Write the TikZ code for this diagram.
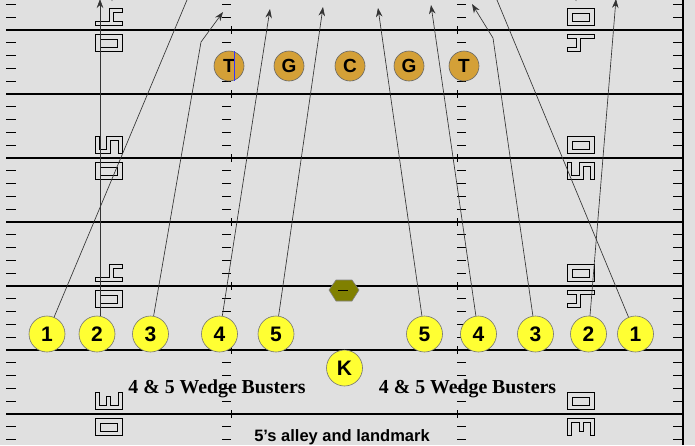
\documentclass[tikz,border=0pt]{standalone}
\usepackage{fontspec}
\setmainfont{Liberation Serif}
\setsansfont{Liberation Sans}
\usepackage{tikz}
\usetikzlibrary{positioning, arrows.meta}

\definecolor{fieldgray}{RGB}{224,224,224}
\definecolor{kickyellow}{RGB}{255,255,51}
\definecolor{recvgold}{RGB}{212,160,55}
\definecolor{ballolive}{RGB}{128,128,0}

\tikzset{
  yardline/.style={line width=1.2pt, black},
  hashtick/.style={line width=0.9pt, black},
  numline/.style={line width=0.8pt, black, x=1pt, y=1pt},
  kicker/.style={circle, draw=black!55, line width=0.6pt, fill=kickyellow,
    minimum size=36pt, inner sep=0pt, font=\sffamily\bfseries\fontsize{21}{21}\selectfont},
  receiver/.style={circle, draw=black!60, line width=0.6pt, fill=recvgold,
    minimum size=30pt, inner sep=0pt, font=\sffamily\bfseries\fontsize{19}{19}\selectfont},
  lane/.style={line width=0.65pt, draw=black!80, -{Stealth[length=9pt, width=6.5pt]}},
  % block digits, drawn upright, turned when placed
  dzero/.pic={\draw[numline] (-8.5,-13.5) rectangle (8.5,13.5) (-4,-8.5) rectangle (4,8.5);},
  dthree/.pic={\draw[numline] (-8.5,13.5) -- (8.5,13.5) -- (8.5,-13.5) -- (-8.5,-13.5) -- (-8.5,-9.5)
    -- (4.5,-9.5) -- (4.5,-2) -- (-4.5,-2) -- (-4.5,2) -- (4.5,2) -- (4.5,9.5) -- (-8.5,9.5) -- cycle;},
  dfour/.pic={\draw[numline] (-8.5,13.5) -- (-4.5,13.5) -- (-4.5,4.5) -- (4.5,4.5) -- (4.5,13.5)
    -- (8.5,13.5) -- (8.5,-13.5) -- (4.5,-13.5) -- (4.5,0.5) -- (-8.5,0.5) -- cycle;},
  dfive/.pic={\draw[numline] (-8.5,13.5) -- (8.5,13.5) -- (8.5,9.5) -- (-4.5,9.5) -- (-4.5,2) -- (8.5,2)
    -- (8.5,-13.5) -- (-8.5,-13.5) -- (-8.5,-9.5) -- (4.5,-9.5) -- (4.5,-2) -- (-8.5,-2) -- cycle;},
}

\begin{document}
\begin{tikzpicture}[x=1pt, y=-1pt]
  \useasboundingbox (0,0) rectangle (695,445);
  \fill[fieldgray] (0,0) rectangle (695,445);

  % yard lines and hash marks
  \foreach \y in {30,94,...,414}{
    \draw[yardline] (6,\y) -- (683,\y);
    \draw[hashtick] (231,\y-4) -- (231,\y+4) (457,\y-4) -- (457,\y+4);
  }
  \foreach \b in {-34,30,94,...,414}
    \foreach \j in {1,2,3,4}{
      \draw[hashtick] (6,\b+12.8*\j) -- (16,\b+12.8*\j) (222,\b+12.8*\j) -- (231,\b+12.8*\j)
        (457,\b+12.8*\j) -- (466,\b+12.8*\j) (673,\b+12.8*\j) -- (683,\b+12.8*\j);
    }
  \draw[yardline] (683,0) -- (683,445);

  % numbers, left side
  \pic[rotate=-90] at (108.5,17) {dfour};
  \pic[rotate=-90] at (108.5,43) {dzero};
  \pic[rotate=-90] at (108.5,145) {dfive};
  \pic[rotate=-90] at (108.5,171) {dzero};
  \pic[rotate=-90] at (108.5,273) {dfour};
  \pic[rotate=-90] at (108.5,299) {dzero};
  \pic[rotate=-90] at (108.5,401) {dthree};
  \pic[rotate=-90] at (108.5,427) {dzero};

  % numbers, right side
  \pic[rotate=90] at (581,17) {dzero};
  \pic[rotate=90] at (581,43) {dfour};
  \pic[rotate=90] at (581,145) {dzero};
  \pic[rotate=90] at (581,171) {dfive};
  \pic[rotate=90] at (581,273) {dzero};
  \pic[rotate=90] at (581,299) {dfour};
  \pic[rotate=90] at (581,401) {dzero};
  \pic[rotate=90] at (581,427) {dthree};

  % receiving front
  \node[receiver] (rT1) at (229,66) {T};
  \node[receiver] (rG1) at (289,66) {G};
  \node[receiver] (rC)  at (350,66) {C};
  \node[receiver] (rG2) at (409,66) {G};
  \node[receiver] (rT2) at (464,66) {T};
  \draw[blue!80, line width=0.6pt] (234,51) -- (234,81);

  % ball
  \draw[fill=ballolive, draw=black!50, line width=0.6pt]
     (329,290) -- (336,280) -- (352,280) -- (359,290) -- (352,301) -- (336,301) -- cycle;
  \draw[black, line width=0.8pt] (338,290) -- (348,290);

  % kickoff team
  \node[kicker] (kL1) at (47,334) {1};
  \node[kicker] (kL2) at (97,334) {2};
  \node[kicker] (kL3) at (150.5,334) {3};
  \node[kicker] (kL4) at (219.5,334) {4};
  \node[kicker] (kL5) at (276,334) {5};
  \node[kicker] (kR5) at (424.5,334) {5};
  \node[kicker] (kR4) at (478.5,334) {4};
  \node[kicker] (kR3) at (535.5,334) {3};
  \node[kicker] (kR2) at (588.5,334) {2};
  \node[kicker] (kR1) at (635.5,334) {1};
  \node[kicker] (kick) at (344.5,368) {K};

  % goal direction marks
  \draw[numline] (109,7) -- (112,0) -- (115,7) -- cycle;
  \draw[numline] (109,310) -- (112,322) -- (115,310) -- cycle;
  \draw[numline] (109,437) -- (112,448) -- (115,437) -- cycle;
  \draw[numline] (573,7) -- (576,0) -- (579,7) -- cycle;
  \draw[numline] (573,309) -- (576,320) -- (579,309) -- cycle;
  \draw[numline] (573,438) -- (576,449) -- (579,438) -- cycle;

  \coordinate (endL1) at (192,-12);
  \coordinate (endL2) at (100,-1);
  \coordinate (bendL3) at (201,42);
  \coordinate (endL3) at (223,12);
  \coordinate (endL4) at (270,9);
  \coordinate (endL5) at (323,7);
  \coordinate (endR5) at (378,8);
  \coordinate (endR4) at (431,5);
  \coordinate (bendR3) at (493,38);
  \coordinate (endR3) at (472,4);
  \coordinate (endR2) at (616,-1);
  \coordinate (endR1) at (492,-12);

  \draw[lane] (kL1) -- (endL1);
  \draw[lane] (kL2.north -| endL2) -- (endL2);
  \draw[lane] (kL3) -- (bendL3) -- (endL3);
  \draw[lane] (kL4) -- (endL4);
  \draw[lane] (kL5) -- (endL5);
  \draw[lane] (kR5) -- (endR5);
  \draw[lane] (kR4) -- (endR4);
  \draw[lane] (kR3) -- (bendR3) -- (endR3);
  \draw[lane] (kR2) -- (endR2);
  \draw[lane] (kR1) -- (endR1);

  \node[anchor=base, font=\bfseries\fontsize{19.8}{20}\selectfont] (wedgeL) at (217,393) {4 \& 5 Wedge Busters};
  \node[anchor=base, font=\bfseries\fontsize{19.8}{20}\selectfont] (wedgeR) at (467.5,393) {4 \& 5 Wedge Busters};
  \node[anchor=base, font=\sffamily\bfseries\fontsize{16.5}{17}\selectfont] (alley) at (342,441) {5's alley and landmark};
\end{tikzpicture}
\end{document}
